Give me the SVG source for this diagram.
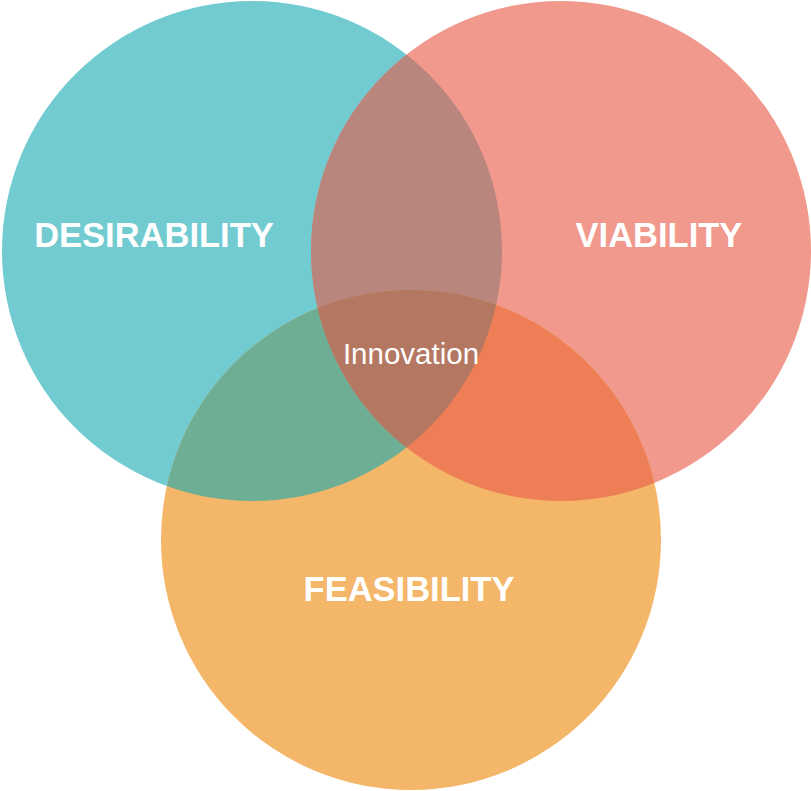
<svg xmlns="http://www.w3.org/2000/svg" width="811" height="791" viewBox="0 0 811 791">
<style>
.lbl{font-family:"Liberation Sans",Arial,sans-serif;font-weight:bold;font-size:34.5px;fill:#ffffff;text-anchor:middle}
.inn{font-family:"Liberation Sans",Arial,sans-serif;font-size:29.5px;fill:#ffffff;text-anchor:middle}
</style>
<defs>
<clipPath id="cT"><circle cx="252" cy="251" r="250"/></clipPath>
<clipPath id="cR"><circle cx="561" cy="251" r="250"/></clipPath>
</defs>
<rect width="811" height="791" fill="#ffffff"/>
<g id="desirability">
<circle cx="252" cy="251" r="250" fill="#71CBD1"/>
</g>
<g id="viability">
<circle cx="561" cy="251" r="250" fill="#F0998C"/>
</g>
<g id="feasibility">
<circle cx="411" cy="540" r="250" fill="#F4B669"/>
</g>
<g id="overlaps">
<circle cx="561" cy="251" r="250" fill="#B8867D" clip-path="url(#cT)"/>
<circle cx="411" cy="540" r="250" fill="#6DAE95" clip-path="url(#cT)"/>
<circle cx="411" cy="540" r="250" fill="#EE7E55" clip-path="url(#cR)"/>
<g clip-path="url(#cT)">
<circle cx="411" cy="540" r="250" fill="#B47862" clip-path="url(#cR)"/>
</g>
</g>
<g id="labels">
<text class="lbl" x="154" y="247">DESIRABILITY</text>
<text class="lbl" x="659" y="247">VIABILITY</text>
<text class="lbl" x="409" y="601">FEASIBILITY</text>
<text class="inn" x="411" y="364">Innovation</text>
</g>
</svg>
